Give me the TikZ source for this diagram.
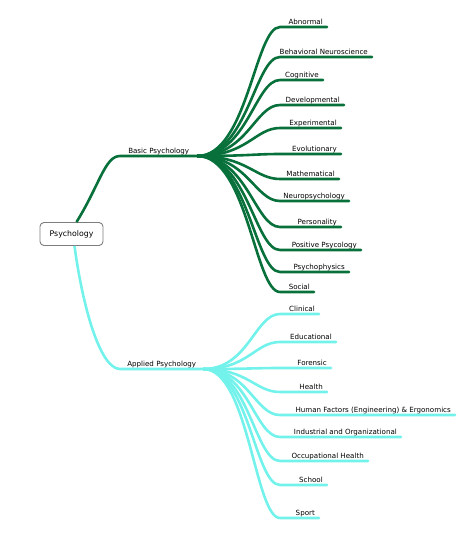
\documentclass[tikz,border=0pt]{standalone}
\usepackage{fontspec}
\setmainfont{DejaVu Sans}
\usetikzlibrary{positioning}

\definecolor{basicgreen}{RGB}{8,112,58}
\definecolor{appliedcyan}{RGB}{115,242,236}
\definecolor{boxgray}{RGB}{125,125,125}

\begin{document}
\begin{tikzpicture}[x=1pt,y=-1pt,
  font=\fontsize{7.1}{8.5}\selectfont,
  rootbox/.style={draw=boxgray,line width=0.9pt,rounded corners=4pt,fill=white,minimum width=63pt,minimum height=23pt,inner sep=2pt,font=\fontsize{7.8}{9}\selectfont},
  branch/.style={inner xsep=0pt,inner ysep=1pt,text height=6pt,text depth=1.5pt,anchor=south west},
  leaf/.style={inner xsep=4pt,inner ysep=1pt,text height=6pt,text depth=1.5pt,anchor=south east},
  basicline/.style={draw=basicgreen,line width=2.6pt},
  appliedline/.style={draw=appliedcyan,line width=2.6pt},
  twig/.style={line cap=round}]
\useasboundingbox (0,0) rectangle (474,533);

% Centre
\node[rootbox] (psy) at (71.5,234) {Psychology};

% Main branches
\node[branch,minimum width=77pt] (bas) at (120,156) {Basic Psychology};
\node[branch,minimum width=83pt] (app) at (120,369) {Applied Psychology};
\coordinate (bx) at (280,0);

\draw[basicline] ([xshift=5pt]psy.north) .. controls +(23,-37) and +(-15,0) .. (bas.south west) -- (bas.south east);
\draw[appliedline] ([xshift=3pt]psy.south) .. controls +(8,60) and +(-20,0) .. (app.south west) -- (app.south east);

% Basic leaves
\node[leaf] (abn) at (327,27) {Abnormal};
\node[leaf] (beh) at (372,57) {Behavioral Neuroscience};
\node[leaf] (cog) at (323,80) {Cognitive};
\node[leaf] (dev) at (344,105) {Developmental};
\node[leaf] (exp) at (341,128) {Experimental};
\node[leaf] (evo) at (341,154) {Evolutionary};
\node[leaf] (mat) at (339,179) {Mathematical};
\node[leaf] (neu) at (349,201) {Neuropsychology};
\node[leaf] (per) at (341,227) {Personality};
\node[leaf] (pos) at (361,250) {Positive Psycology};
\node[leaf] (phy) at (349,272) {Psychophysics};
\node[leaf] (soc) at (314,292) {Social};

\draw[basicline,twig] (bas.south east) .. controls +(50,0) and +(-25,0) .. (bx |- abn.south) -- (abn.south east);
\draw[basicline,twig] (bas.south east) .. controls +(50,0) and +(-25,0) .. (bx |- beh.south) -- (beh.south east);
\draw[basicline,twig] (bas.south east) .. controls +(50,0) and +(-25,0) .. (bx |- cog.south) -- (cog.south east);
\draw[basicline,twig] (bas.south east) .. controls +(50,0) and +(-25,0) .. (bx |- dev.south) -- (dev.south east);
\draw[basicline,twig] (bas.south east) .. controls +(50,0) and +(-25,0) .. (bx |- exp.south) -- (exp.south east);
\draw[basicline,twig] (bas.south east) .. controls +(50,0) and +(-25,0) .. (bx |- evo.south) -- (evo.south east);
\draw[basicline,twig] (bas.south east) .. controls +(50,0) and +(-25,0) .. (bx |- mat.south) -- (mat.south east);
\draw[basicline,twig] (bas.south east) .. controls +(50,0) and +(-25,0) .. (bx |- neu.south) -- (neu.south east);
\draw[basicline,twig] (bas.south east) .. controls +(50,0) and +(-25,0) .. (bx |- per.south) -- (per.south east);
\draw[basicline,twig] (bas.south east) .. controls +(50,0) and +(-25,0) .. (bx |- pos.south) -- (pos.south east);
\draw[basicline,twig] (bas.south east) .. controls +(50,0) and +(-25,0) .. (bx |- phy.south) -- (phy.south east);
\draw[basicline,twig] (bas.south east) .. controls +(50,0) and +(-25,0) .. (bx |- soc.south) -- (soc.south east);

% Applied leaves
\node[leaf] (cli) at (319,314) {Clinical};
\node[leaf] (edu) at (336,342) {Educational};
\node[leaf] (for) at (331,368) {Forensic};
\node[leaf] (hea) at (327,392) {Health};
\node[leaf] (hum) at (455,415) {Human Factors (Engineering) \& Ergonomics};
\node[leaf] (ind) at (401,437) {Industrial and Organizational};
\node[leaf] (occ) at (368,461) {Occupational Health};
\node[leaf] (sch) at (327,485) {School};
\node[leaf] (spo) at (319,518) {Sport};

\draw[appliedline,twig] (app.south east) .. controls +(45,0) and +(-25,0) .. (bx |- cli.south) -- (cli.south east);
\draw[appliedline,twig] (app.south east) .. controls +(45,0) and +(-25,0) .. (bx |- edu.south) -- (edu.south east);
\draw[appliedline,twig] (app.south east) .. controls +(45,0) and +(-25,0) .. (bx |- for.south) -- (for.south east);
\draw[appliedline,twig] (app.south east) .. controls +(45,0) and +(-25,0) .. (bx |- hea.south) -- (hea.south east);
\draw[appliedline,twig] (app.south east) .. controls +(45,0) and +(-25,0) .. (bx |- hum.south) -- (hum.south east);
\draw[appliedline,twig] (app.south east) .. controls +(45,0) and +(-25,0) .. (bx |- ind.south) -- (ind.south east);
\draw[appliedline,twig] (app.south east) .. controls +(45,0) and +(-25,0) .. (bx |- occ.south) -- (occ.south east);
\draw[appliedline,twig] (app.south east) .. controls +(45,0) and +(-25,0) .. (bx |- sch.south) -- (sch.south east);
\draw[appliedline,twig] (app.south east) .. controls +(45,0) and +(-25,0) .. (bx |- spo.south) -- (spo.south east);
\end{tikzpicture}
\end{document}
